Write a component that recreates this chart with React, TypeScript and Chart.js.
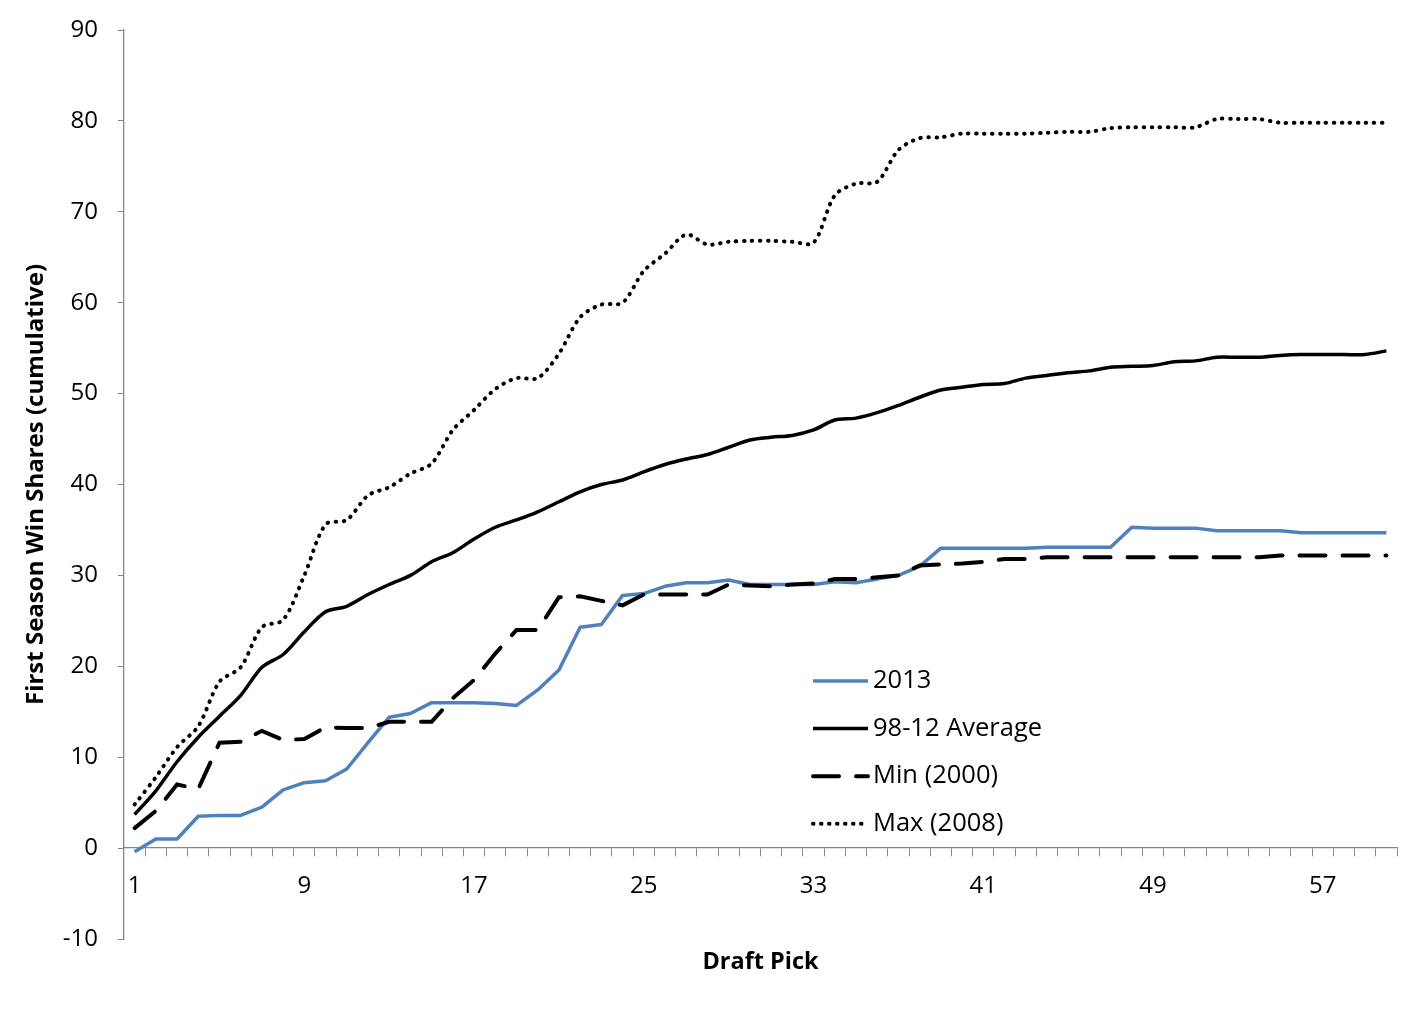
import React, { useEffect, useRef } from 'react';
import { Chart, registerables } from 'chart.js';

Chart.register(...registerables);

const picks = [
  '1', '2', '3', '4', '5', '6', '7', '8', '9', '10',
  '11', '12', '13', '14', '15', '16', '17', '18', '19', '20',
  '21', '22', '23', '24', '25', '26', '27', '28', '29', '30',
  '31', '32', '33', '34', '35', '36', '37', '38', '39', '40',
  '41', '42', '43', '44', '45', '46', '47', '48', '49', '50',
  '51', '52', '53', '54', '55', '56', '57', '58', '59', '60',
];

const season2013 = [
  -0.4, 1.0, 1.0, 3.5, 3.6, 3.6, 4.5, 6.4, 7.2, 7.4,
  8.7, 11.6, 14.4, 14.8, 16.0, 16.0, 16.0, 15.9, 15.7, 17.4,
  19.6, 24.3, 24.6, 27.8, 28.0, 28.8, 29.2, 29.2, 29.5, 29.0,
  29.0, 29.0, 29.0, 29.3, 29.2, 29.6, 30.0, 31.0, 33.0, 33.0,
  33.0, 33.0, 33.0, 33.1, 33.1, 33.1, 33.1, 35.3, 35.2, 35.2,
  35.2, 34.9, 34.9, 34.9, 34.9, 34.7, 34.7, 34.7, 34.7, 34.7,
];

const avg9812 = [
  3.7, 6.3, 9.5, 12.2, 14.5, 16.8, 19.9, 21.3, 23.8, 26.0,
  26.6, 27.9, 29.0, 30.0, 31.5, 32.5, 34.0, 35.3, 36.1, 37.0,
  38.1, 39.2, 40.0, 40.5, 41.4, 42.2, 42.8, 43.3, 44.1, 44.9,
  45.2, 45.4, 46.0, 47.1, 47.3, 47.9, 48.7, 49.6, 50.4, 50.7,
  51.0, 51.1, 51.7, 52.0, 52.3, 52.5, 52.9, 53.0, 53.1, 53.5,
  53.6, 54.0, 54.0, 54.0, 54.2, 54.3, 54.3, 54.3, 54.3, 54.7,
];

const min2000 = [
  2.2, 4.1, 7.0, 6.5, 11.6, 11.7, 12.9, 11.9, 12.0, 13.3,
  13.2, 13.2, 13.9, 13.9, 13.9, 16.5, 18.5, 21.4, 24.0, 24.0,
  27.6, 27.7, 27.2, 26.7, 27.9, 27.9, 27.9, 27.9, 29.0, 28.9,
  28.8, 29.0, 29.1, 29.6, 29.6, 29.8, 30.0, 31.1, 31.2, 31.3,
  31.5, 31.8, 31.8, 32.0, 32.0, 32.0, 32.0, 32.0, 32.0, 32.0,
  32.0, 32.0, 32.0, 32.0, 32.2, 32.2, 32.2, 32.2, 32.2, 32.2,
];

const max2008 = [
  4.8, 7.8, 11.1, 13.4, 18.3, 19.9, 24.3, 25.1, 30.0, 35.6,
  36.1, 38.8, 39.7, 41.2, 42.3, 46.0, 48.2, 50.5, 51.7, 51.7,
  54.4, 58.4, 59.8, 60.0, 63.5, 65.4, 67.5, 66.4, 66.7, 66.8,
  66.8, 66.7, 66.6, 71.8, 73.1, 73.3, 76.8, 78.1, 78.2, 78.6,
  78.6, 78.6, 78.6, 78.7, 78.8, 78.8, 79.2, 79.3, 79.3, 79.3,
  79.3, 80.2, 80.2, 80.2, 79.8, 79.8, 79.8, 79.8, 79.8, 79.8,
];

const seriesNames = ['2013', '98-12 Average', 'Min (2000)', 'Max (2008)'];
const labelEvery = 8;
const yTitle = 'First Season Win Shares (cumulative)';
const xTitle = 'Draft Pick';

const FONT = "'Open Sans', 'Liberation Sans', sans-serif";

const insideLegend = {
  id: 'insideLegend',
  afterDraw(chart: any) {
    const { ctx, chartArea } = chart;
    const x0 = chartArea.left + 689;
    const y0 = 681;
    const rowGap = 47.6;
    const sampleLen = 55;
    chart.data.datasets.forEach((ds: any, i: number) => {
      const y = y0 + i * rowGap;
      ctx.save();
      ctx.strokeStyle = ds.borderColor;
      ctx.lineWidth = ds.borderWidth;
      ctx.lineCap = ds.borderCapStyle || 'butt';
      ctx.setLineDash(ds.borderDash || []);
      ctx.beginPath();
      ctx.moveTo(x0, y);
      ctx.lineTo(x0 + sampleLen, y);
      ctx.stroke();
      ctx.setLineDash([]);
      ctx.fillStyle = '#000';
      ctx.font = `25.5px ${FONT}`;
      ctx.textBaseline = 'middle';
      ctx.textAlign = 'left';
      ctx.fillText(ds.label, x0 + sampleLen + 5, y);
      ctx.restore();
    });
    ctx.save();
    ctx.fillStyle = '#000';
    ctx.font = `bold 23.5px ${FONT}`;
    ctx.textAlign = 'center';
    ctx.textBaseline = 'middle';
    ctx.fillText(xTitle, (chartArea.left + chartArea.right) / 2, 962);
    ctx.restore();
  },
};

export default function App() {
  const canvasRef = useRef<HTMLCanvasElement | null>(null);

  useEffect(() => {
    if (!canvasRef.current) return;
    const axisGray = '#868686';
    const chart = new Chart(canvasRef.current, {
      type: 'line',
      data: {
        labels: picks,
        datasets: [
          {
            label: seriesNames[0],
            data: season2013,
            borderColor: '#4F81BD',
            backgroundColor: '#4F81BD',
            borderWidth: 3.5,
            pointRadius: 0,
            tension: 0,
            borderJoinStyle: 'round',
            order: 4,
          },
          {
            label: seriesNames[1],
            data: avg9812,
            borderColor: '#000000',
            backgroundColor: '#000000',
            borderWidth: 3.5,
            pointRadius: 0,
            tension: 0.3,
            borderJoinStyle: 'round',
            order: 3,
          },
          {
            label: seriesNames[2],
            data: min2000,
            borderColor: '#000000',
            backgroundColor: '#000000',
            borderWidth: 4,
            borderDash: [26, 17],
            borderCapStyle: 'round',
            pointRadius: 0,
            tension: 0,
            order: 2,
          },
          {
            label: seriesNames[3],
            data: max2008,
            borderColor: '#000000',
            backgroundColor: '#000000',
            borderWidth: 4,
            borderDash: [0.5, 7.5],
            borderCapStyle: 'round',
            pointRadius: 0,
            tension: 0.3,
            order: 1,
          },
        ],
      },
      options: {
        responsive: false,
        animation: false,
        events: [],
        layout: { padding: { left: 0, right: 23, top: 30, bottom: 93 } },
        plugins: {
          legend: { display: false },
          tooltip: { enabled: false },
          title: { display: false },
        },
        scales: {
          x: {
            type: 'category',
            position: { y: 0 } as any,
            offset: true,
            grid: {
              display: true,
              offset: true,
              drawOnChartArea: false,
              drawTicks: true,
              tickLength: 8,
              color: axisGray,
              lineWidth: 1,
            },
            border: { display: true, color: axisGray, width: 1.3 },
            ticks: {
              autoSkip: false,
              maxRotation: 0,
              minRotation: 0,
              padding: 16,
              color: '#000',
              font: { family: FONT, size: 24 },
              callback: (_v: any, i: number) => (i % labelEvery === 0 ? picks[i] : ''),
            },
          },
          y: {
            type: 'linear',
            position: 'left',
            min: -10,
            max: 90,
            grid: {
              display: true,
              drawOnChartArea: false,
              drawTicks: true,
              tickLength: 6,
              color: axisGray,
              lineWidth: 1,
            },
            border: { display: true, color: axisGray, width: 1.3 },
            ticks: {
              stepSize: 10,
              padding: 20,
              color: '#000',
              font: { family: FONT, size: 24 },
            },
            title: {
              display: true,
              text: yTitle,
              color: '#000',
              font: { family: FONT, size: 24, weight: 'bold' },
              padding: { top: 22, bottom: 0 },
            },
            afterFit: (scale: any) => {
              scale.width = 124;
              scale.paddingTop = 12;
              scale.paddingBottom = 12;
            },
          },
        },
      },
      plugins: [insideLegend],
    });
    return () => chart.destroy();
  }, []);

  return (
    <div style={{ position: 'absolute', left: 0, top: 0, width: 1420, height: 1032, background: '#fff' }}>
      <canvas ref={canvasRef} width={1420} height={1032} style={{ display: 'block' }} />
    </div>
  );
}
